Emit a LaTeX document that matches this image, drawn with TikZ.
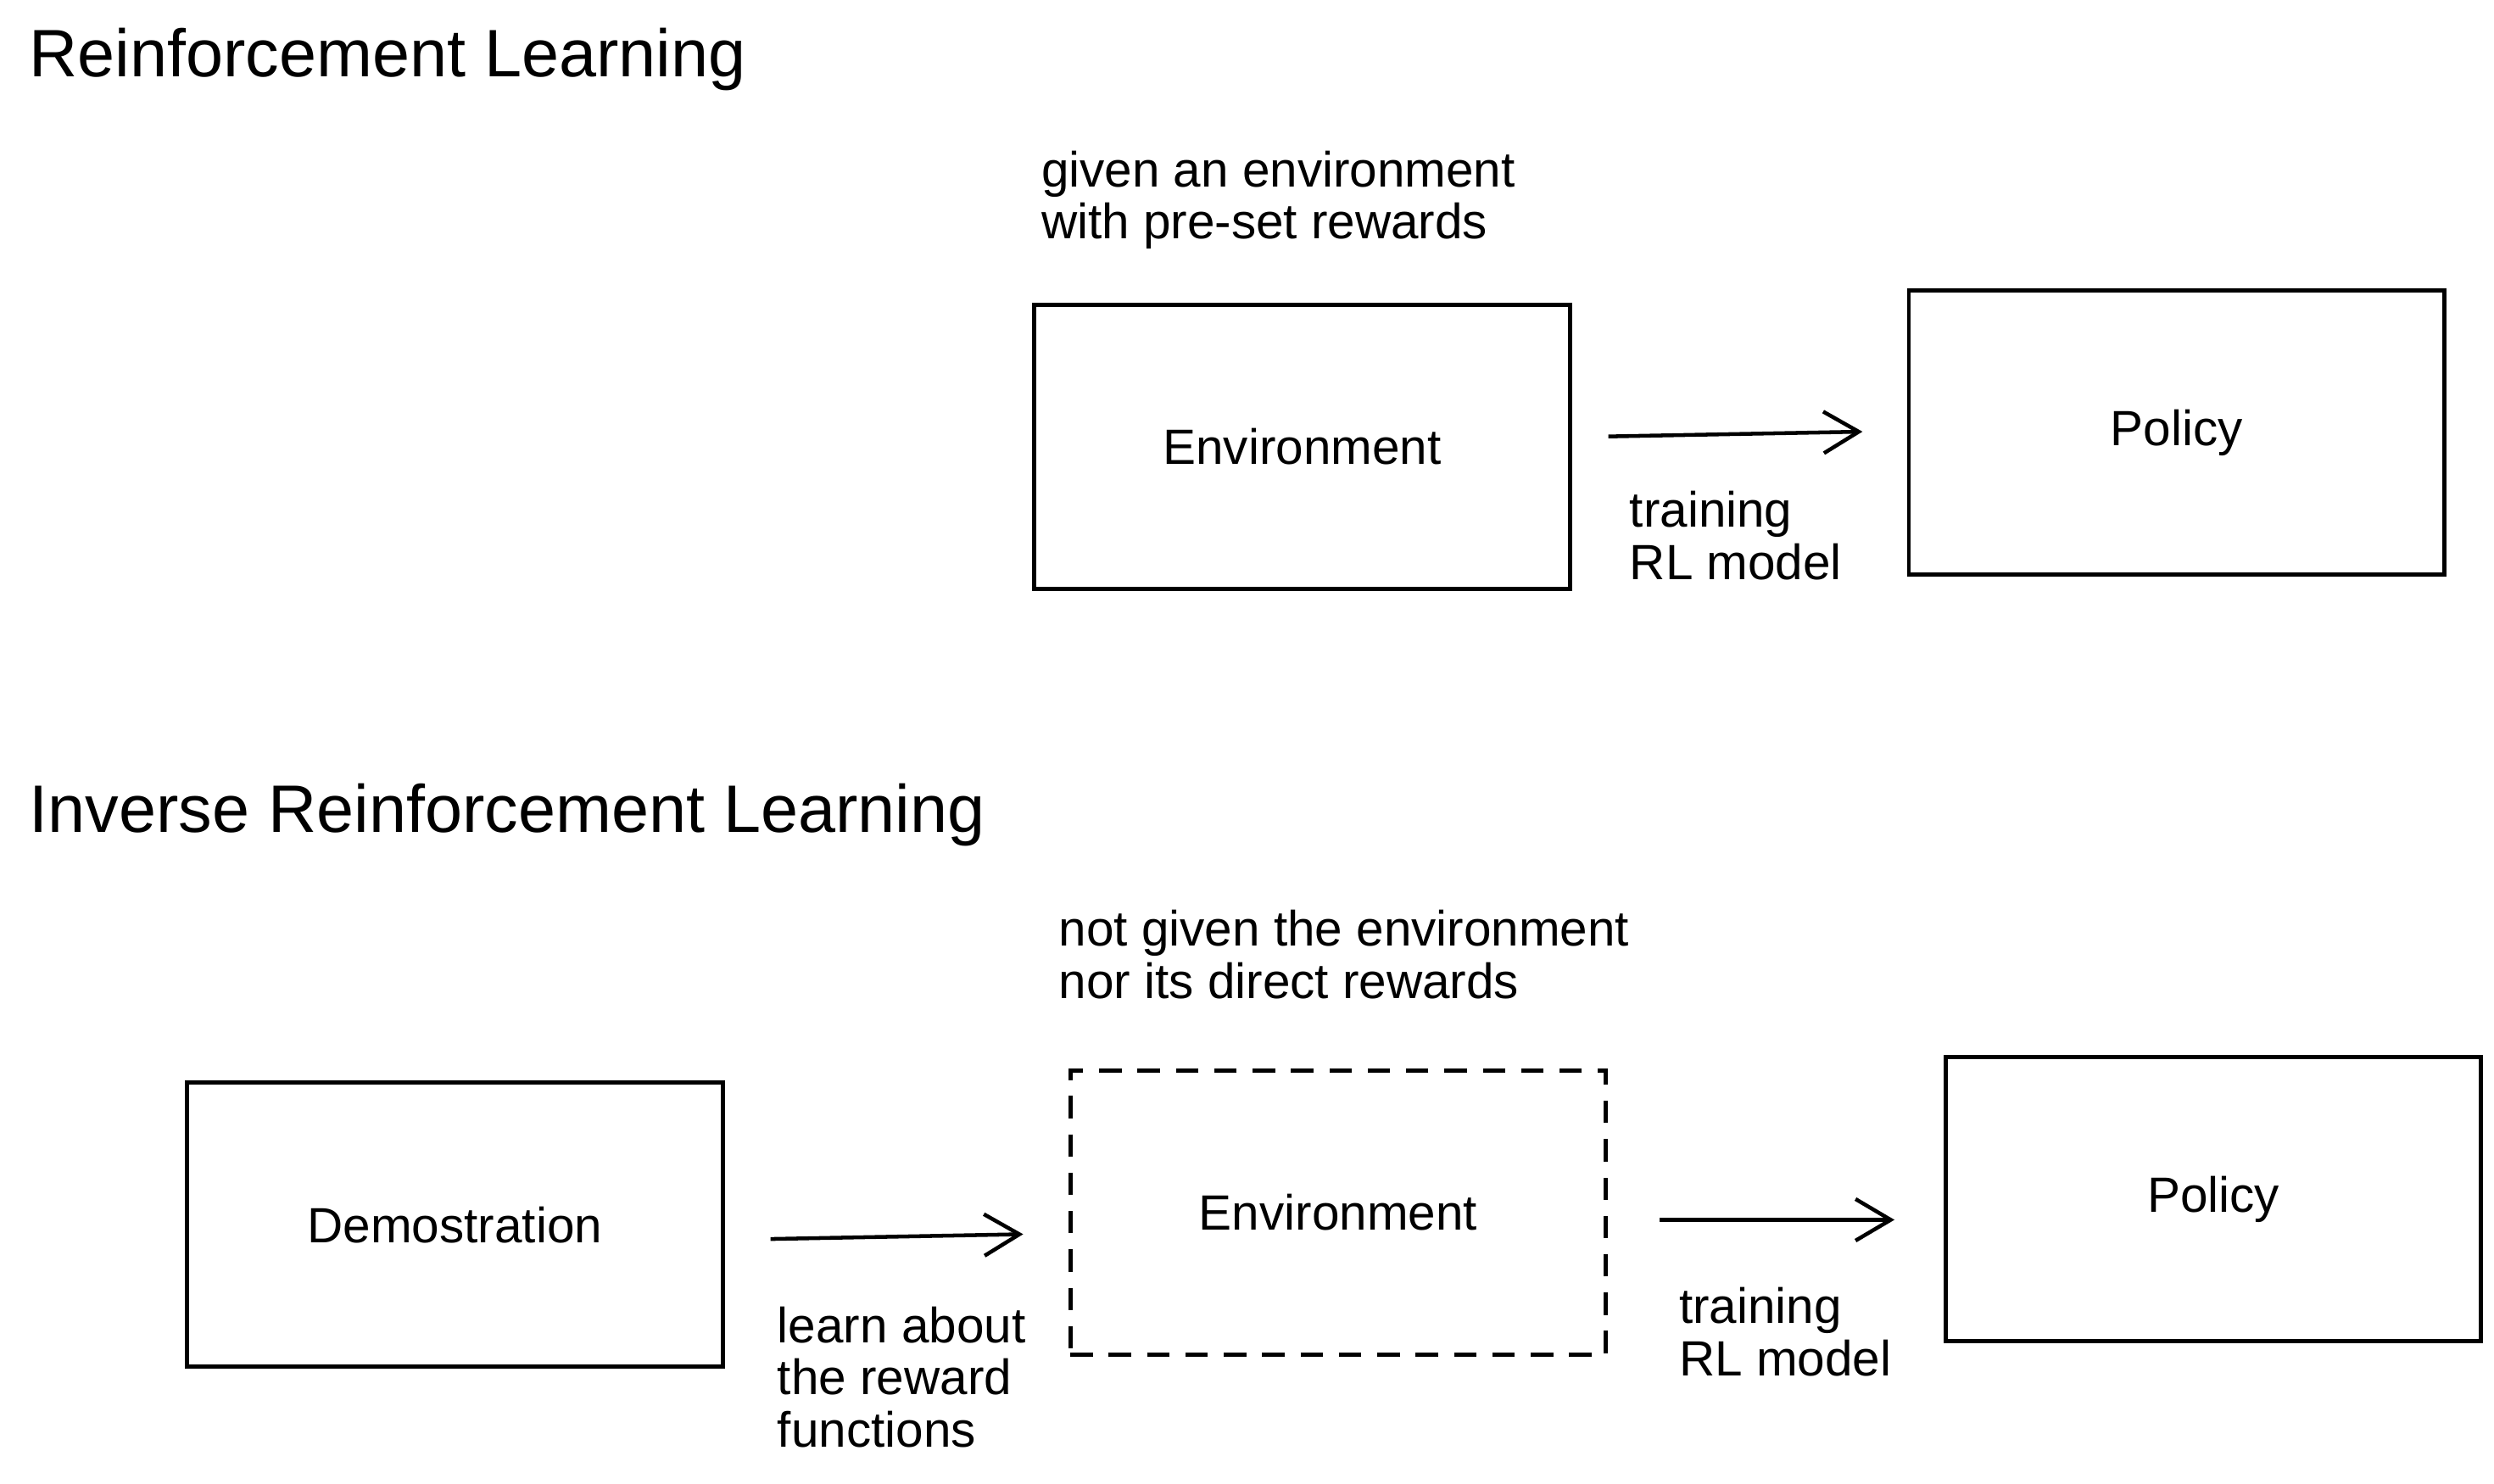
\documentclass[tikz,border=0pt]{standalone}
\usepackage{fontspec}
\setmainfont{Liberation Sans}
\usetikzlibrary{arrows.meta}
\begin{document}
\begin{tikzpicture}[x=0.5pt,y=-0.5pt,
  box/.style={draw,line width=1.3pt,minimum width=167.5pt,minimum height=89pt,inner sep=0pt,font=\fontsize{15.5}{17}\selectfont},
  dbox/.style={box,dash pattern=on 7pt off 5pt},
  txt/.style={anchor=north west,inner sep=0pt,align=left,font=\fontsize{15.5}{16.3}\selectfont},
  ttl/.style={anchor=west,inner sep=0pt,font=\fontsize{21}{24}\selectfont},
  arr/.style={line width=1.2pt,-{Straight Barb[length=11pt,width=13pt,line width=1.2pt]}}]
\useasboundingbox (0,0) rectangle (1560,928);
\node[ttl] (t1) at (18,37) {Reinforcement Learning};
\node[ttl] (t2) at (18,510) {Inverse Reinforcement Learning};
\node[box] (env1) at (814.5,279.5) {Environment};
\node[box] (pol1) at (1361.5,270.5) {Policy};
\coordinate (a1s) at (1006,273);
\draw[arr] (a1s) -- (1165,270);
\node[txt] (g1) at (651,94) {given an environment\\with pre-set rewards};
\node[txt] (tr1) at (1019,307) {training\\RL model};
\node[box] (demo) at (284.5,766) {Demostration};
\node[dbox] (env2) at (837,758.5) {Environment};
\node[box] (pol2) at (1384.5,750) {Policy};
\coordinate (a2s) at (482,775);
\coordinate (a2e) at (640,772);
\draw[arr] (a2s) -- (a2e);
\coordinate (a3s) at (1038,763);
\coordinate (a3e) at (1185,763);
\draw[arr] (a3s) -- (a3e);
\node[txt] (la) at (486,817) {learn about\\the reward\\functions};
\node[txt] (ng) at (662,569) {not given the environment\\nor its direct rewards};
\node[txt] (tr2) at (1050,805) {training\\RL model};
\end{tikzpicture}
\end{document}
